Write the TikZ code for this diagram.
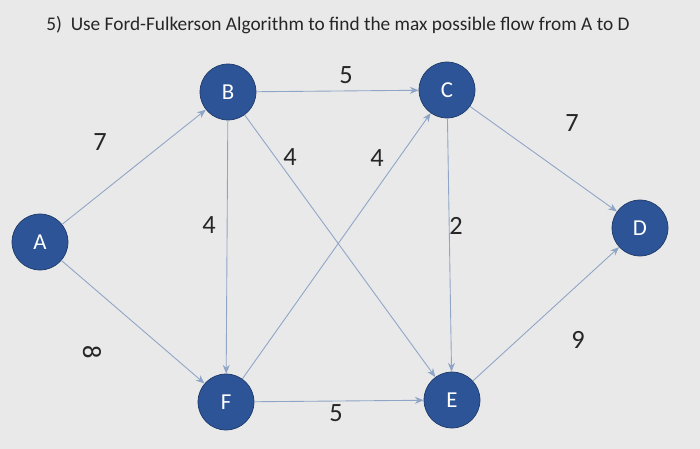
\documentclass[tikz,border=0pt]{standalone}
\usepackage{fontspec}
\setmainfont{Carlito}
\usetikzlibrary{arrows.meta}
\definecolor{bg}{HTML}{E9E9EA}
\definecolor{nodeblue}{HTML}{2C5496}
\definecolor{edge}{HTML}{8FA5C6}
\begin{document}
\begin{tikzpicture}[x=0.02cm,y=-0.02cm,
  vert/.style={circle,fill=nodeblue,draw=nodeblue!70!black,minimum size=1.12cm,inner sep=0pt,text=white,font=\fontsize{13}{15}\selectfont},
  flow/.style={draw=edge,line width=0.5pt,-{Stealth[length=5pt,width=4pt]}},
  lab/.style={font=\fontsize{15}{17}\selectfont,text=black!85}]
\fill[bg] (0,0) rectangle (700,449);
\useasboundingbox (0,0) rectangle (700,449);
\node[font=\fontsize{11}{13}\selectfont,text=black!85] (t) at (338,25) {5)\ \ Use Ford-Fulkerson Algorithm to find the max possible flow from A to D};
\node[vert] (A) at (40,242) {A};
\node[vert] (B) at (228,92) {B};
\node[vert] (C) at (447,90) {C};
\node[vert] (D) at (640,228) {D};
\node[vert] (F) at (226,402) {F};
\node[vert] (E) at (452,400) {E};
\draw[flow] (A) -- (B);
\draw[flow] (A) -- (F);
\draw[flow] (B) -- (C);
\draw[flow] (B) -- (F);
\draw[flow] (B) -- (E);
\draw[flow] (F) -- (C);
\draw[flow] (C) -- (E);
\draw[flow] (C) -- (D);
\draw[flow] (F) -- (E);
\draw[flow] (E) -- (D);
\node[lab] (l1) at (100,142) {7};
\node[lab,rotate=-90] (l2) at (92,352) {8};
\node[lab] (l3) at (346,75) {5};
\node[lab] (l4) at (209,225) {4};
\node[lab] (l5) at (290,157) {4};
\node[lab] (l6) at (377,158) {4};
\node[lab] (l7) at (456,226) {2};
\node[lab] (l8) at (572,123) {7};
\node[lab] (l9) at (336,413) {5};
\node[lab] (l10) at (578,340) {9};
\end{tikzpicture}
\end{document}
